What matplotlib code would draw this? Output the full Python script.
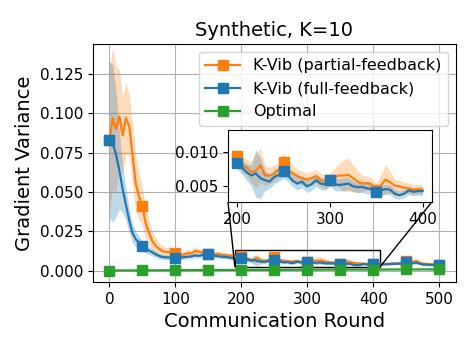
import matplotlib
matplotlib.use("Agg")
import matplotlib.pyplot as plt
import numpy as np
from mpl_toolkits.axes_grid1.inset_locator import mark_inset

# communication rounds (every 5 rounds)
rounds = list(range(0, 501, 5))

partial_mean = [
    0.083, 0.097, 0.090, 0.098, 0.086, 0.097, 0.092, 0.074, 0.055, 0.047,
    0.041, 0.030, 0.024, 0.019, 0.016, 0.014, 0.0127, 0.012, 0.0118, 0.0115,
    0.0112, 0.0105, 0.0100, 0.0108, 0.0112, 0.0110, 0.0128, 0.0120, 0.0118, 0.0112,
    0.0108, 0.0112, 0.0105, 0.0108, 0.0102, 0.0100, 0.0097, 0.0096, 0.0093, 0.0090,
    0.0094, 0.0081, 0.0077, 0.0070, 0.0072, 0.0080, 0.0065, 0.0065, 0.0068, 0.0074,
    0.0085, 0.0073, 0.0068, 0.0064, 0.0061, 0.0059, 0.0061, 0.0064, 0.0058, 0.0056,
    0.0058, 0.0063, 0.0065, 0.0065, 0.0066, 0.0061, 0.0056, 0.0053, 0.0054, 0.0052,
    0.0043, 0.0050, 0.0059, 0.0055, 0.0050, 0.0049, 0.0047, 0.0046, 0.0044, 0.0045,
    0.0044, 0.0045, 0.0046, 0.0044, 0.0045, 0.0046, 0.0048, 0.0047, 0.0049, 0.0050,
    0.0060, 0.0052, 0.0058, 0.0062, 0.0052, 0.0046, 0.0045, 0.0043, 0.0042, 0.0041,
    0.0040,
]
partial_std = [
    0.045, 0.045, 0.040, 0.030, 0.025, 0.022, 0.020, 0.020, 0.018, 0.015,
    0.012, 0.010, 0.008, 0.006, 0.005, 0.004, 0.0035, 0.003, 0.003, 0.0028,
    0.0025, 0.0022, 0.0020, 0.0022, 0.0022, 0.0020, 0.0025, 0.0022, 0.0020, 0.0020,
    0.0018, 0.0018, 0.0018, 0.0016, 0.0016, 0.0015, 0.0015, 0.0015, 0.0014, 0.0013,
    0.0010, 0.0012, 0.0012, 0.0015, 0.0025, 0.0025, 0.0015, 0.0012, 0.0012, 0.0012,
    0.0012, 0.0012, 0.0012, 0.0010, 0.0010, 0.0010, 0.0010, 0.0010, 0.0010, 0.0010,
    0.0010, 0.0012, 0.0018, 0.0024, 0.0024, 0.0020, 0.0016, 0.0012, 0.0010, 0.0010,
    0.0010, 0.0016, 0.0022, 0.0016, 0.0010, 0.0009, 0.0008, 0.0008, 0.0007, 0.0007,
    0.0007, 0.0007, 0.0008, 0.0008, 0.0008, 0.0009, 0.0009, 0.0009, 0.0009, 0.0010,
    0.0010, 0.0010, 0.0016, 0.0018, 0.0010, 0.0009, 0.0008, 0.0007, 0.0007, 0.0007,
    0.0007,
]
full_mean = [
    0.083, 0.081, 0.074, 0.064, 0.052, 0.042, 0.032, 0.024, 0.020, 0.018,
    0.016, 0.014, 0.0128, 0.0117, 0.0105, 0.0095, 0.0088, 0.0086, 0.0085, 0.0084,
    0.0082, 0.0090, 0.0085, 0.0088, 0.0090, 0.0092, 0.0098, 0.0095, 0.0100, 0.0105,
    0.0110, 0.0102, 0.0095, 0.0092, 0.0090, 0.0088, 0.0086, 0.0082, 0.0080, 0.0078,
    0.0084, 0.0077, 0.0070, 0.0065, 0.0068, 0.0061, 0.0058, 0.0056, 0.0063, 0.0066,
    0.0071, 0.0065, 0.0057, 0.0053, 0.0056, 0.0049, 0.0052, 0.0058, 0.0053, 0.0052,
    0.0059, 0.0052, 0.0051, 0.0052, 0.0053, 0.0049, 0.0048, 0.0048, 0.0046, 0.0045,
    0.0041, 0.0043, 0.0045, 0.0044, 0.0038, 0.0036, 0.0038, 0.0043, 0.0041, 0.0042,
    0.0042, 0.0042, 0.0043, 0.0041, 0.0042, 0.0043, 0.0044, 0.0045, 0.0046, 0.0048,
    0.0058, 0.0048, 0.0050, 0.0052, 0.0045, 0.0040, 0.0039, 0.0038, 0.0037, 0.0036,
    0.0035,
]
full_std = [
    0.050, 0.050, 0.040, 0.025, 0.015, 0.010, 0.008, 0.006, 0.005, 0.004,
    0.003, 0.0028, 0.0025, 0.0022, 0.0020, 0.0018, 0.0017, 0.0016, 0.0015, 0.0015,
    0.0015, 0.0015, 0.0014, 0.0014, 0.0014, 0.0014, 0.0015, 0.0014, 0.0014, 0.0014,
    0.0014, 0.0013, 0.0013, 0.0012, 0.0012, 0.0012, 0.0012, 0.0012, 0.0011, 0.0011,
    0.0009, 0.0010, 0.0012, 0.0015, 0.0035, 0.0030, 0.0015, 0.0010, 0.0010, 0.0010,
    0.0010, 0.0009, 0.0009, 0.0009, 0.0009, 0.0009, 0.0009, 0.0009, 0.0009, 0.0009,
    0.0009, 0.0009, 0.0009, 0.0009, 0.0009, 0.0008, 0.0008, 0.0008, 0.0008, 0.0007,
    0.0007, 0.0007, 0.0007, 0.0007, 0.0007, 0.0006, 0.0006, 0.0006, 0.0006, 0.0006,
    0.0006, 0.0006, 0.0006, 0.0006, 0.0006, 0.0006, 0.0006, 0.0006, 0.0006, 0.0007,
    0.0009, 0.0007, 0.0007, 0.0008, 0.0006, 0.0006, 0.0006, 0.0006, 0.0006, 0.0006,
    0.0006,
]
optimal_rounds = [0, 50, 100, 150, 200, 250, 300, 350, 400, 450, 500]
optimal_mean = [0.0002, 0.0003, 0.0004, 0.0005, 0.0006, 0.0006, 0.0007, 0.0008, 0.0008, 0.0009, 0.0009]

C_PARTIAL = "#ff7f0e"
C_FULL = "#1f77b4"
C_OPT = "#2ca02c"

fig = plt.figure(figsize=(4.74, 3.55), dpi=100)
ax = fig.add_axes([0.196, 0.206, 0.766, 0.670])

r = np.array(rounds)
pm, ps = np.array(partial_mean), np.array(partial_std)
fm, fs = np.array(full_mean), np.array(full_std)


def draw(a, sl, mev, ms, with_opt=True):
    a.fill_between(r[sl], (pm - ps)[sl], (pm + ps)[sl], color=C_PARTIAL, alpha=0.28, linewidth=0)
    a.plot(r[sl], pm[sl], color=C_PARTIAL, lw=1.6, marker="s", ms=ms, markevery=mev,
           label="K-Vib (partial-feedback)")
    a.fill_between(r[sl], (fm - fs)[sl], (fm + fs)[sl], color=C_FULL, alpha=0.28, linewidth=0)
    a.plot(r[sl], fm[sl], color=C_FULL, lw=1.6, marker="s", ms=ms, markevery=mev,
           label="K-Vib (full-feedback)")
    if with_opt:
        a.plot(optimal_rounds, optimal_mean, color=C_OPT, lw=1.6, marker="s", ms=ms,
               label="Optimal")


draw(ax, slice(0, None), 10, 7.5)
ax.set_xlim(-25, 525)
ax.set_ylim(-0.007, 0.144)
ax.set_xticks([0, 100, 200, 300, 400, 500])
ax.set_yticks([0.0, 0.025, 0.05, 0.075, 0.1, 0.125])
ax.set_yticklabels(["0.000", "0.025", "0.050", "0.075", "0.100", "0.125"])
ax.grid(True, color="#b0b0b0", linewidth=0.8)
ax.set_axisbelow(True)
ax.tick_params(labelsize=11)
ax.set_xlabel("Communication Round", fontsize=14)
ax.set_ylabel("Gradient Variance", fontsize=14)
ax.set_title("Synthetic, K=10", fontsize=14)
ax.legend(loc="upper right", fontsize=11.5, handlelength=2.2, borderaxespad=0.5)

axins = fig.add_axes([0.481, 0.431, 0.430, 0.203])
draw(axins, slice(40, 81), [0, 10, 20, 30], 7, with_opt=False)
axins.set_xlim(190, 410)
axins.set_ylim(0.0026, 0.0132)
axins.set_xticks([200, 300, 400])
axins.set_yticks([0.005, 0.010])
axins.set_yticklabels(["0.005", "0.010"])
axins.tick_params(labelsize=11)
mark_inset(ax, axins, loc1=3, loc2=4, fc="none", ec="black", lw=1)

fig.savefig("out.png", dpi=100)
